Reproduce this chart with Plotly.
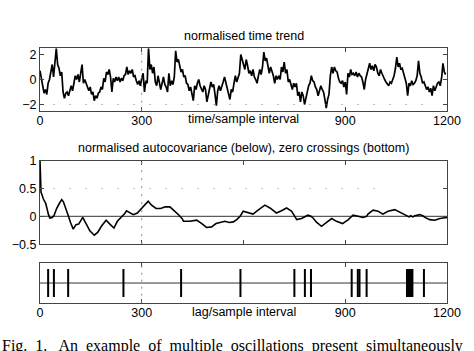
import numpy as np
import plotly.graph_objects as go

# ---------------- data ----------------
# normalised time trend, read every 4 samples (0..1196)
trend_t = list(range(0, 1200, 4))
trend_y = [
    0.7, -0.1, -0.5, -1.1, -0.8, -1.2, -0.3, 0.0, 0.6, 1.2,
    0.2, 1.4, 2.5, 1.2, 0.9, 0.3, 0.6, -1.0, -1.5, -1.1,
    -1.0, -1.3, -0.8, -0.5, -0.9, -0.3, 0.3, 0.0, 0.4, -0.2,
    0.4, 1.2, -0.3, 0.0, -0.3, -0.6, -0.9, -0.6, -1.2, -1.0,
    -1.7, -1.3, -1.5, -1.1, -1.0, -0.6, -0.8, 0.1, -0.2, 0.6,
    0.4, 0.8, 0.2, -1.0, 0.1, -0.2, 0.2, -0.1, 0.2, -0.2,
    0.1, -0.1, 0.3, 0.4, 1.0, 0.4, 0.7, 0.5, 0.8, 0.2,
    0.3, -0.1, -0.4, -0.1, -0.5, 0.1, 0.5, -1.0, -0.1, -0.3,
    2.5, 0.8, 1.2, 0.5, 1.0, -0.2, -0.5, 0.3, -0.3, -0.8,
    -0.3, 0.2, -0.4, -0.6, -1.0, 0.5, -0.5, -0.1, -0.4, 0.2,
    2.3, 1.4, 1.6, 1.0, 0.6, 0.8, 0.2, 0.3, -0.3, -0.4,
    -0.9, -0.6, -1.2, -1.7, -0.5, -0.8, -0.3, 0.0, -0.5, -0.7,
    -1.0, -0.5, -0.8, -1.8, -1.3, -0.7, -0.2, -0.6, -0.4, -1.2,
    -2.1, -0.9, -0.5, -0.9, -0.6, -0.2, 0.2, -0.3, -0.6, -1.2,
    -1.6, -0.8, -1.0, -0.3, 0.3, -0.2, 0.2, 0.5, 2.0, 1.5,
    1.2, 0.8, 1.6, 1.1, 0.5, 0.7, 0.3, 0.8, 0.2, 0.0,
    -0.3, 0.3, 0.8, 0.4, 1.0, 2.2, 1.5, 1.7, 0.9, 0.5,
    1.0, 0.7, 0.3, -0.3, 0.3, 0.0, 0.3, 0.0, 1.0, 0.6,
    1.4, 0.5, 0.8, -0.2, 0.0, -0.4, -0.8, -0.3, -0.6, -0.3,
    -1.3, -1.0, -1.8, -1.0, -1.3, -2.0, -1.5, -1.1, -0.5, -0.3,
    0.3, -0.1, -0.2, -0.6, -0.8, -1.3, -0.9, -0.5, -0.8, -1.0,
    -1.6, -2.3, -1.6, -1.2, 0.3, 1.0, 0.5, 1.0, 0.7, 0.6,
    0.1, -0.2, -0.3, -0.1, -0.6, -0.2, -1.2, 0.5, 0.2, 0.8,
    0.4, 0.5, 0.3, 0.6, 0.2, 0.5, 0.3, 0.2, -0.2, -0.8,
    0.0, 0.5, 0.9, 1.3, 0.8, 1.1, 0.7, 1.2, 1.0, 0.5,
    0.3, 0.8, 0.5, 0.2, 0.0, -0.2, -0.4, -0.5, -0.2, -0.3,
    0.0, 0.3, 0.9, 1.8, 1.0, 1.3, 0.8, 0.9, 0.5, 0.1,
    -0.3, -1.3, -0.3, -0.5, -0.1, -0.4, -0.3, -0.1, 0.3, 1.5,
    0.5, 0.2, -0.3, -0.2, -0.5, -0.8, -0.6, -1.0, -0.7, -1.3,
    -0.5, -0.9, -0.6, -0.3, -0.2, -0.5, 0.1, 1.3, 0.6, 0.4,
]

# normalised autocovariance
acf_lag = [0, 1, 2, 3, 5, 10, 17, 20, 25, 29, 36, 41, 49, 57, 64, 69, 77, 84, 90, 98,
           106, 114, 126, 136, 147, 160, 170, 182, 195, 206, 218, 228, 240, 250, 255, 265,
           275, 287, 300, 312, 319, 329, 342, 356, 369, 383, 398, 410, 420, 423, 442, 462,
           477, 491, 506, 519, 531, 545, 558, 570, 580, 590, 599, 614, 628, 643, 663, 678,
           697, 712, 727, 742, 751, 757, 771, 781, 790, 799, 805, 816, 830, 845, 860, 874,
           892, 909, 919, 923, 938, 952, 963, 967, 982, 997, 1011, 1026, 1046, 1061, 1076,
           1083, 1088, 1093, 1099, 1105, 1120, 1131, 1135, 1149, 1164, 1179, 1190, 1200]
acf_val = [1.0, 0.75, 0.5, 0.43, 0.40, 0.31, 0.23, 0.14, 0.03, -0.03, -0.02, 0.01, 0.14, 0.23,
           0.30, 0.26, 0.14, 0.0, -0.11, -0.23, -0.15, -0.14, -0.02, -0.14, -0.26, -0.34,
           -0.29, -0.17, -0.07, -0.14, -0.21, -0.09, -0.02, 0.05, 0.10, 0.06, 0.03, 0.06,
           0.14, 0.23, 0.27, 0.20, 0.14, 0.14, 0.17, 0.17, 0.09, 0.02, -0.05, -0.09, -0.09,
           -0.07, -0.13, -0.20, -0.19, -0.13, -0.11, -0.09, -0.11, -0.10, -0.06, 0.0, 0.09,
           0.07, 0.04, 0.11, 0.20, 0.15, 0.06, 0.10, 0.15, 0.09, 0.0, -0.06, -0.04, 0.0,
           0.02, 0.0, -0.03, -0.11, -0.18, -0.11, -0.04, -0.09, -0.13, -0.06, 0.0, 0.02,
           0.0, -0.02, 0.0, 0.04, 0.11, 0.09, 0.04, 0.09, 0.12, 0.07, 0.03, 0.0, -0.01,
           0.01, -0.01, 0.01, 0.03, 0.0, -0.02, -0.06, -0.07, -0.04, -0.03, -0.02]

# zero crossing lags
zero_cross = [24, 41, 83, 246, 416, 591, 750, 781, 799, 919, 937, 942, 963,
              1082, 1086, 1090, 1094, 1098, 1132]

x_ticks = [0, 300, 900, 1200]

# ---------------- figure ----------------
FONT = "Liberation Sans, Arial, Helvetica, sans-serif"
FS = 12.5
W, H = 474, 351
dom_top = [(H - 108) / H, (H - 43) / H]
dom_mid = [(H - 247) / H, (H - 160) / H]
dom_bot = [(H - 308) / H, (H - 267) / H]

fig = go.Figure()
fig.add_trace(go.Scatter(x=trend_t, y=trend_y, mode="lines",
                         line=dict(color="black", width=1.7),
                         xaxis="x", yaxis="y", showlegend=False))
fig.add_trace(go.Scatter(x=[0, 1200], y=[0, 0], mode="lines",
                         line=dict(color="#333", width=1),
                         xaxis="x2", yaxis="y2", showlegend=False))
fig.add_trace(go.Scatter(x=acf_lag, y=acf_val, mode="lines",
                         line=dict(color="black", width=1.6),
                         xaxis="x2", yaxis="y2", showlegend=False))
bx, by = [], []
for z in zero_cross:
    bx += [z, z, None]
    by += [-1, 1, None]
fig.add_trace(go.Scatter(x=[0, 1200], y=[0, 0], mode="lines",
                         line=dict(color="#333", width=1),
                         xaxis="x3", yaxis="y3", showlegend=False))
fig.add_trace(go.Scatter(x=bx, y=by, mode="lines",
                         line=dict(color="black", width=2),
                         xaxis="x3", yaxis="y3", showlegend=False))

axcommon = dict(showline=True, linecolor="#444", linewidth=1, mirror="ticks",
                ticks="inside", ticklen=4, tickcolor="#444", showgrid=False,
                zeroline=False, tickfont=dict(family=FONT, size=FS, color="black"))

fig.update_layout(
    width=W, height=H,
    margin=dict(l=40, r=27, t=0, b=0),
    paper_bgcolor="white", plot_bgcolor="white",
    font=dict(family=FONT, size=FS, color="black"),
    xaxis=dict(domain=[0, 1], range=[0, 1200], tickvals=x_ticks, anchor="y",
               ticklabelstandoff=-2, **axcommon),
    yaxis=dict(domain=dom_top, range=[-2.5, 2.5], tickvals=[-2, 0, 2], anchor="x", **axcommon),
    xaxis2=dict(domain=[0, 1], range=[0, 1200], tickvals=[0, 300, 600, 900, 1200],
                showticklabels=False, anchor="y2", **axcommon),
    yaxis2=dict(domain=dom_mid, range=[-0.5, 1], tickvals=[-0.5, 0, 0.5, 1],
                ticktext=["\u22120.5", "0", "0.5", "1"], anchor="x2", **axcommon),
    xaxis3=dict(domain=[0, 1], range=[0, 1200], tickvals=x_ticks, anchor="y3",
                ticklabelstandoff=-2, **axcommon),
    yaxis3=dict(domain=dom_bot, range=[-1.4, 1.4], tickvals=[], showticklabels=False,
                anchor="x3", **{k: v for k, v in axcommon.items() if k not in ("ticks",)}),
)

# dotted grid fragments
dot = dict(color="#777", width=1, dash="1px,15px")
shapes = [
    dict(type="line", xref="x", yref="y", x0=40, x1=1150, y0=-2, y1=-2, line=dot),
    dict(type="line", xref="x2", yref="y2", x0=40, x1=1000, y0=0.5, y1=0.5, line=dot),
    dict(type="line", xref="x", yref="y", x0=300, x1=300, y0=-2.5, y1=2.5,
         line=dict(color="#888", width=1, dash="2px,6px")),
    dict(type="line", xref="x2", yref="y2", x0=300, x1=300, y0=-0.5, y1=1,
         line=dict(color="#888", width=1, dash="2px,6px")),
    dict(type="line", xref="x3", yref="y3", x0=300, x1=300, y0=-1.4, y1=1.4,
         line=dict(color="#888", width=1, dash="2px,5px")),
]
fig.update_layout(shapes=shapes)

def py(px):
    return (H - px) / H

ann = [
    dict(text="normalised time trend", x=0.5, y=py(30)),
    dict(text="time/sample interval", x=0.5, y=py(117)),
    dict(text="normalised autocovariance (below), zero crossings (bottom)", x=0.5, y=py(147)),
    dict(text="lag/sample interval", x=0.5, y=py(318)),
]
annotations = []
for a in ann:
    annotations.append(dict(text=a["text"], x=a["x"], y=a["y"], xref="paper", yref="paper",
                            xanchor="center", yanchor="middle", showarrow=False,
                            font=dict(family=FONT, size=FS, color="black")))
annotations.append(dict(text="Fig.  1.   An  example  of  multiple  oscillations  present  simultaneously",
                        x=-40 / (W - 67), y=py(342), xref="paper", yref="paper",
                        xanchor="left", yanchor="top", showarrow=False,
                        font=dict(family="Liberation Serif, Times New Roman, serif", size=16,
                                  color="black")))
fig.update_layout(annotations=annotations)

fig.write_html("out.html")
